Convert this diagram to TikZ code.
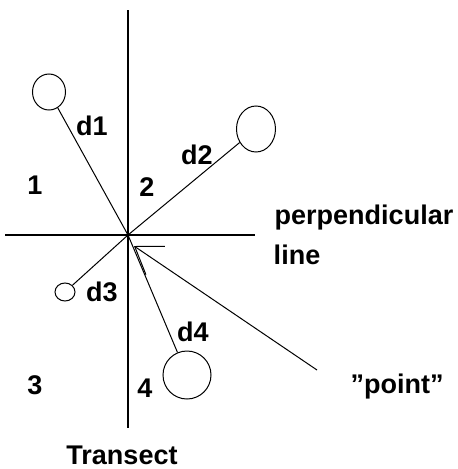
\documentclass[tikz,border=0pt]{standalone}
\usepackage{fontspec}
\setmainfont{Liberation Sans}
\usetikzlibrary{arrows.meta, shapes.geometric}

\tikzset{
  lbl/.style={font=\fontsize{27}{29}\selectfont\bfseries, inner sep=0pt},
  spot/.style={draw, ellipse, inner sep=0pt, line width=1pt},
  dline/.style={line width=1pt},
  axis/.style={line width=2pt}
}

\begin{document}
\begin{tikzpicture}[x=1pt, y=-1pt]
  \useasboundingbox (0,0) rectangle (458,469);
  % centre where transect and perpendicular line cross
  \coordinate (O) at (128,235);
  \coordinate (ttop) at (128,10);
  \coordinate (tbot) at (128,428);
  \coordinate (pleft) at (5,235);
  \coordinate (pright) at (255,235);
  \coordinate (tip) at (134,246);
  \coordinate (pt) at (317,370);
  % axes
  \draw[axis] (ttop) -- (tbot);
  \draw[axis] (pleft) -- (pright);
  % the four nearest objects
  \node[spot, minimum width=33pt, minimum height=36pt] (c1) at (49,92) {};
  \node[spot, minimum width=39pt, minimum height=46pt] (c2) at (256,129) {};
  \node[spot, minimum width=20pt, minimum height=18pt] (c3) at (65,292) {};
  \node[spot, minimum width=48pt, minimum height=48pt] (c4) at (187,375) {};
  % distances
  \draw[dline] (c1) -- (O);
  \draw[dline] (c2) -- (O);
  \draw[dline] (c3) -- (O);
  \draw[dline] (c4) -- (O);
  \draw[dline, {Straight Barb[length=25pt, width=34pt, line width=1pt]}-] (tip) -- (pt);
  % labels
  \node[lbl] (d1) at (92,126) {d1};
  \node[lbl] (d2) at (197,155) {d2};
  \node[lbl] (d3) at (102,292) {d3};
  \node[lbl] (d4) at (193,332) {d4};
  \node[lbl] (q1) at (35,185) {1};
  \node[lbl] (q2) at (147,187) {2};
  \node[lbl] (q3) at (35,385) {3};
  \node[lbl] (q4) at (145,388) {4};
  \node[lbl] (tr) at (122,455) {Transect};
  \node[lbl] (perp) at (364,218) {perpendicular};
  \node[lbl] (ln) at (297,255) {line};
  \node[lbl] (pn) at (397,387) {\symbol{34}point\symbol{34}};
\end{tikzpicture}
\end{document}
